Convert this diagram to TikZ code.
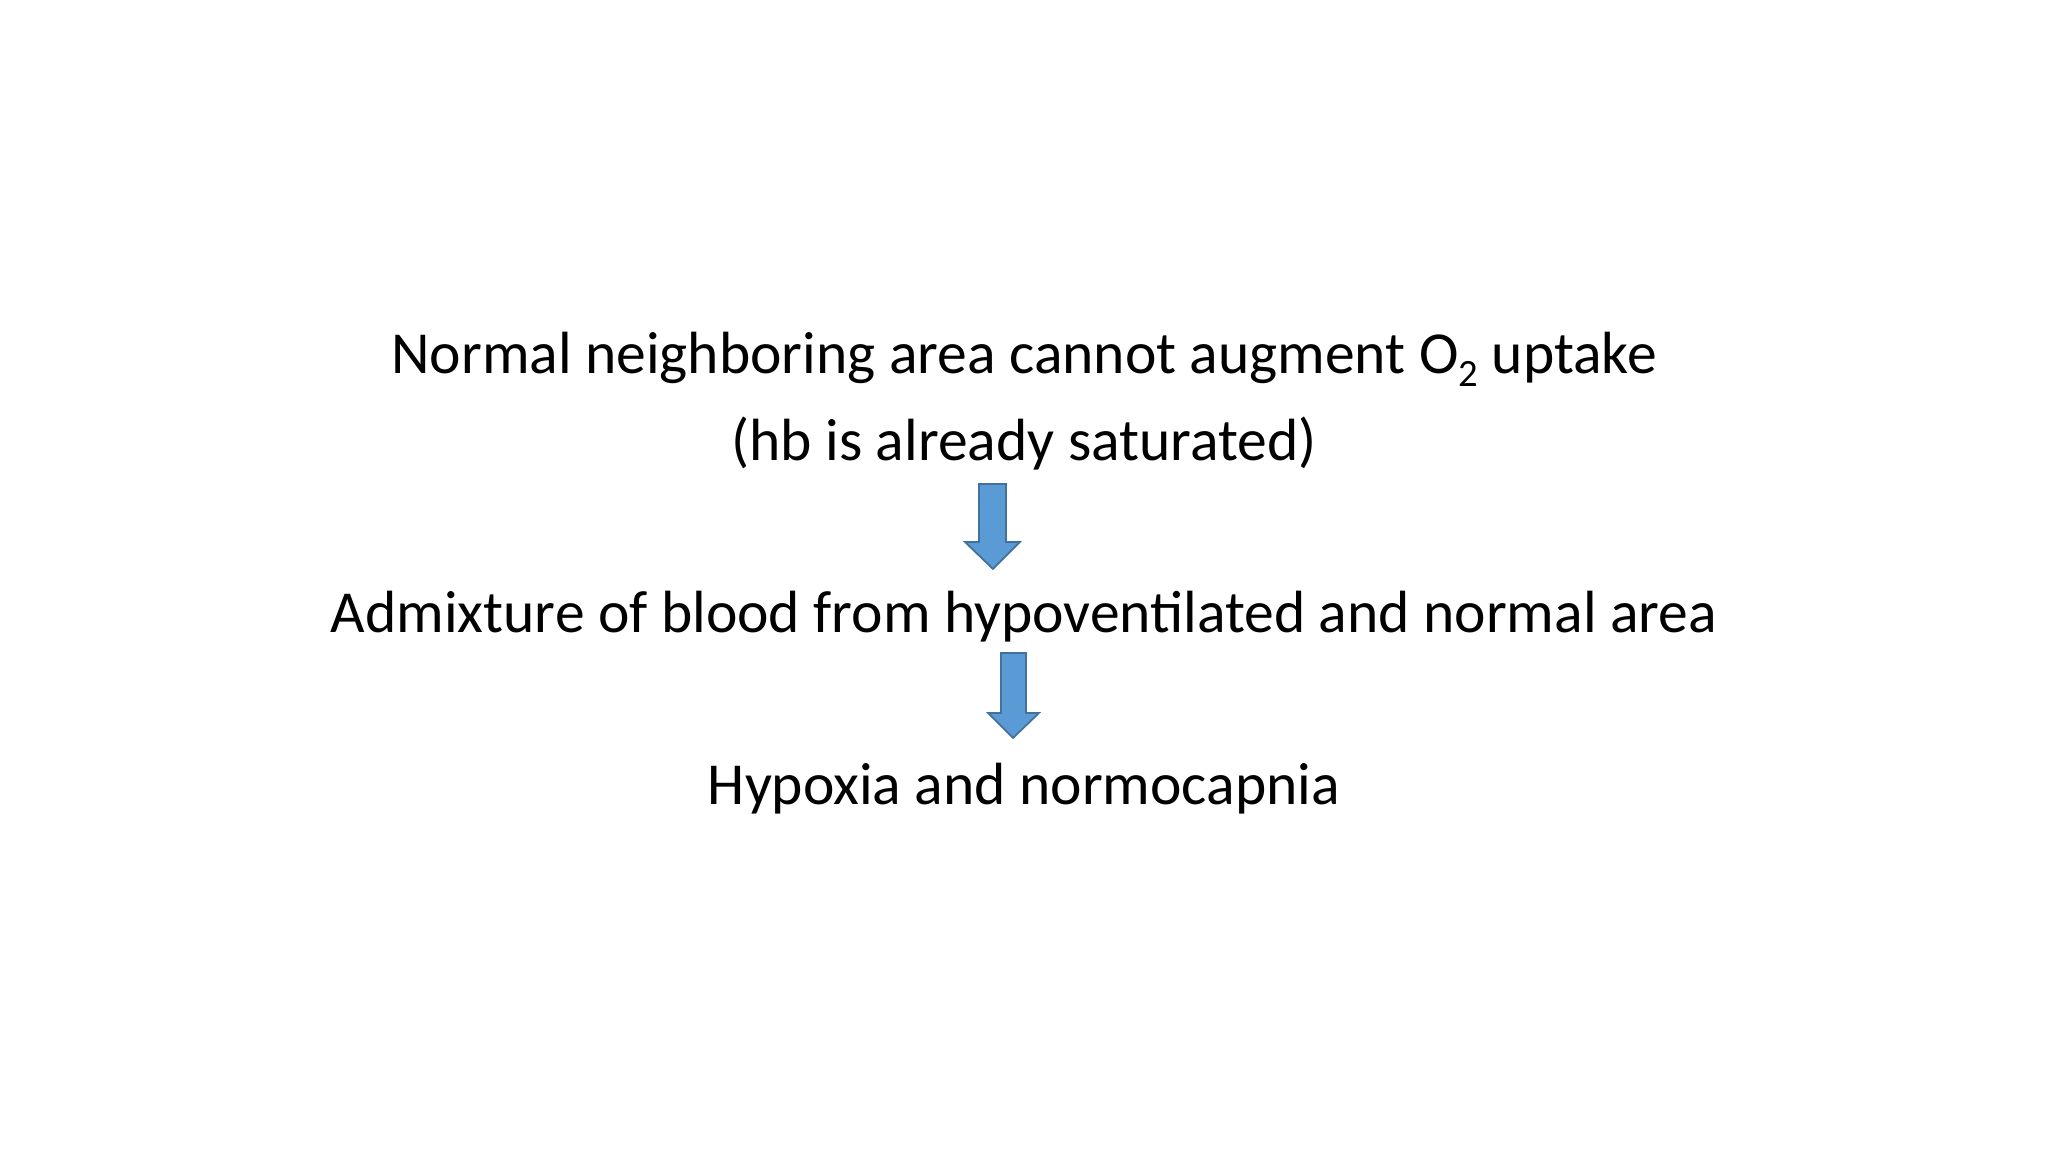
\documentclass[tikz,border=0pt]{standalone}
\usepackage{fontspec}
\setmainfont{Carlito}
\definecolor{arrowfill}{HTML}{5B9BD5}
\definecolor{arrowline}{HTML}{41719C}
\newcommand{\lowsub}[1]{\raisebox{-0.45ex}{\fontsize{11}{12}\selectfont #1}}
\tikzset{
  steptext/.style={inner sep=0pt, font=\fontsize{16.95}{20}\selectfont},
  blockarrow/.style={fill=arrowfill, draw=arrowline, line width=0.5pt, line join=miter}
}

\begin{document}
\begin{tikzpicture}
        \useasboundingbox (0, 0) rectangle (20.48, 11.52);

        \node[steptext] (s1) at (10.24, 7.93) {Normal neighboring area cannot augment O\lowsub{2} uptake};
        \node[steptext] (s1b) at (10.24, 7.08) {(hb is already saturated)};
        \node[steptext] (s2) at (10.24, 5.35) {Admixture of blood from hypoventilated and normal area};
        \node[steptext] (s3) at (10.24, 3.63) {Hypoxia and normocapnia};

        % block arrows between the steps
        \draw[blockarrow] (9.79, 6.68) -- (10.06, 6.68) -- (10.06, 6.10) -- (10.20, 6.10)
            -- (9.93, 5.83) -- (9.65, 6.10) -- (9.79, 6.10) -- cycle;
        \draw[blockarrow] (10.01, 4.99) -- (10.26, 4.99) -- (10.26, 4.39) -- (10.39, 4.39)
            -- (10.13, 4.14) -- (9.88, 4.39) -- (10.01, 4.39) -- cycle;
    \end{tikzpicture}
\end{document}
